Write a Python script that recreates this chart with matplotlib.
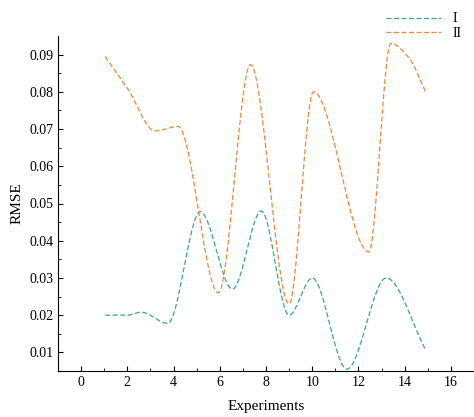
import numpy as np
import matplotlib
matplotlib.use("Agg")
import matplotlib.pyplot as plt

plt.rcParams['font.family'] = ['Liberation Serif', 'DejaVu Serif']

g_x = [1.04, 2.0, 2.6, 3.75, 5.16, 6.55, 7.8, 9.0, 10.0, 11.5, 13.2, 14.9]
g_y = [0.020, 0.020, 0.0208, 0.0178, 0.0478, 0.027, 0.048, 0.020, 0.030, 0.0055, 0.030, 0.0108]
o_x = [1.04, 2.0, 3.2, 4.2, 5.94, 7.33, 9.0, 10.05, 12.45, 13.4, 14.2, 14.9]
o_y = [0.0895, 0.081, 0.0695, 0.0707, 0.026, 0.0873, 0.023, 0.080, 0.037, 0.093, 0.089, 0.080]

def pchip(x, y, n=500):
    x = np.asarray(x, float); y = np.asarray(y, float)
    h = np.diff(x); dlt = np.diff(y) / h
    m = len(x); d = np.zeros(m)
    for i in range(1, m - 1):
        if dlt[i-1] * dlt[i] > 0:
            w1 = 2*h[i] + h[i-1]; w2 = h[i] + 2*h[i-1]
            d[i] = (w1 + w2) / (w1/dlt[i-1] + w2/dlt[i])
    d[0] = dlt[0]; d[-1] = dlt[-1]
    xs = np.linspace(x[0], x[-1], n); ys = np.empty(n)
    for k, t in enumerate(xs):
        i = int(np.clip(np.searchsorted(x, t) - 1, 0, m - 2))
        s = (t - x[i]) / h[i]
        h00 = 2*s**3 - 3*s**2 + 1; h10 = s**3 - 2*s**2 + s
        h01 = -2*s**3 + 3*s**2; h11 = s**3 - s**2
        ys[k] = h00*y[i] + h10*h[i]*d[i] + h01*y[i+1] + h11*h[i]*d[i+1]
    return xs, ys

fig = plt.figure(figsize=(4.74, 4.17), dpi=100)
ax = fig.add_axes([58/474, 1-371/417, 1-58/474, (371-36)/417])
gx, gy = pchip(g_x, g_y)
ox, oy = pchip(o_x, o_y)
ax.plot(gx, gy, color='#3aaa7a', lw=0.9, ls=(0, (4, 2)), label='I')
ax.plot(ox, oy, color='#f0883a', lw=0.9, ls=(0, (4, 2)), label='II')
ax.set_xlim(-1, 17)
ax.set_ylim(0.0052, 0.095)
ax.set_xticks(range(0, 17, 2))
ax.set_xticks(range(-1, 17), minor=True)
ax.set_yticks([0.01, 0.02, 0.03, 0.04, 0.05, 0.06, 0.07, 0.08, 0.09])
ax.set_yticks(np.arange(0.005, 0.095, 0.005), minor=True)
ax.set_yticklabels(['0.01', '0.02', '0.03', '0.04', '0.05', '0.06', '0.07', '0.08', '0.09'])
for s in ['top', 'right']:
    ax.spines[s].set_visible(False)
ax.tick_params(direction='in', labelsize=10)
ax.tick_params(which='minor', direction='in', length=2)
ax.set_xlabel('Experiments', fontsize=11, labelpad=8)
ax.set_ylabel('RMSE', fontsize=11)
fig.legend(loc='upper right', bbox_to_anchor=(1.0, 1.0), frameon=False, fontsize=10, handlelength=4, labelspacing=0.1)
fig.savefig('out.png', dpi=100)
